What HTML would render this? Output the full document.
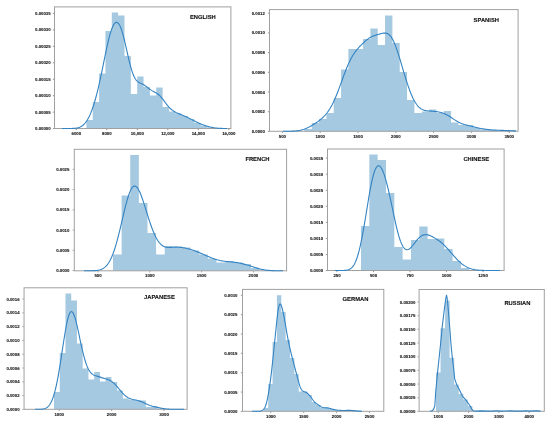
<!DOCTYPE html>
<html lang="en"><head><meta charset="utf-8"><title>Distributions</title>
<style>
html,body{margin:0;padding:0;background:#fff;}
body{width:550px;height:422px;overflow:hidden;}
svg text{font-family:"Liberation Sans",Arial,Helvetica,sans-serif;text-rendering:geometricPrecision;}
</style></head><body>
<svg width="550" height="422" viewBox="0 0 550 422" style="display:block">
<rect width="550" height="422" fill="#fff"/>
<g>
<path d="M86.4,128.5 L86.4,120 L92.75,120 L92.75,102 L99.1,102 L99.1,73.6 L105.45,73.6 L105.45,31 L111.8,31 L111.8,12.6 L118.15,12.6 L118.15,15.6 L124.5,15.6 L124.5,56 L130.85,56 L130.85,94 L137.2,94 L137.2,76.6 L143.55,76.6 L143.55,87 L149.9,87 L149.9,95.6 L156.25,95.6 L156.25,87.6 L162.6,87.6 L162.6,107 L168.95,107 L168.95,111.6 L175.3,111.6 L175.3,113.6 L181.65,113.6 L181.65,116 L188,116 L188,119 L194.35,119 L194.35,123 L200.7,123 L200.7,125.4 L207.05,125.4 L207.05,127.4 L213.4,127.4 L213.4,128.5Z" fill="#a5c9e1"/>
<rect x="54.5" y="6.9" width="176.4" height="121.6" fill="none" stroke="#a0a0a0" stroke-width="1"/>
<path d="M62,128.5 L62.83,128.5 L63.66,128.5 L64.49,128.5 L65.32,128.5 L66.15,128.5 L66.97,128.5 L67.8,128.49 L68.63,128.49 L69.46,128.49 L70.29,128.48 L71.12,128.47 L71.95,128.45 L72.78,128.42 L73.61,128.38 L74.44,128.33 L75.27,128.26 L76.1,128.16 L76.92,128.03 L77.75,127.85 L78.58,127.64 L79.41,127.36 L80.24,127.02 L81.07,126.6 L81.9,126.09 L82.73,125.49 L83.56,124.78 L84.39,123.95 L85.22,123.01 L86.05,121.93 L86.87,120.72 L87.7,119.36 L88.53,117.85 L89.36,116.19 L90.19,114.38 L91.02,112.4 L91.85,110.26 L92.68,107.95 L93.51,105.47 L94.34,102.82 L95.17,100.01 L95.99,97.02 L96.82,93.86 L97.65,90.53 L98.48,87.05 L99.31,83.42 L100.14,79.66 L100.97,75.78 L101.8,71.81 L102.63,67.77 L103.46,63.69 L104.29,59.61 L105.12,55.56 L105.94,51.59 L106.77,47.73 L107.6,44.02 L108.43,40.5 L109.26,37.21 L110.09,34.18 L110.92,31.44 L111.75,29.02 L112.58,26.94 L113.41,25.22 L114.24,23.89 L115.07,22.95 L115.89,22.41 L116.72,22.3 L117.55,22.61 L118.38,23.34 L119.21,24.5 L120.04,26.06 L120.87,28.03 L121.7,30.36 L122.53,33.04 L123.36,36.02 L124.19,39.26 L125.02,42.7 L125.84,46.29 L126.67,49.95 L127.5,53.64 L128.33,57.27 L129.16,60.78 L129.99,64.12 L130.82,67.23 L131.65,70.07 L132.48,72.61 L133.31,74.83 L134.14,76.72 L134.96,78.29 L135.79,79.57 L136.62,80.58 L137.45,81.38 L138.28,82 L139.11,82.49 L139.94,82.9 L140.77,83.28 L141.6,83.65 L142.43,84.05 L143.26,84.49 L144.09,84.99 L144.91,85.54 L145.74,86.13 L146.57,86.76 L147.4,87.41 L148.23,88.06 L149.06,88.69 L149.89,89.3 L150.72,89.87 L151.55,90.4 L152.38,90.89 L153.21,91.35 L154.04,91.79 L154.86,92.22 L155.69,92.67 L156.52,93.14 L157.35,93.68 L158.18,94.28 L159.01,94.96 L159.84,95.73 L160.67,96.59 L161.5,97.53 L162.33,98.55 L163.16,99.63 L163.98,100.74 L164.81,101.87 L165.64,103 L166.47,104.1 L167.3,105.16 L168.13,106.17 L168.96,107.11 L169.79,107.98 L170.62,108.78 L171.45,109.51 L172.28,110.17 L173.11,110.76 L173.93,111.3 L174.76,111.79 L175.59,112.24 L176.42,112.66 L177.25,113.05 L178.08,113.42 L178.91,113.78 L179.74,114.13 L180.57,114.47 L181.4,114.81 L182.23,115.16 L183.06,115.5 L183.88,115.86 L184.71,116.22 L185.54,116.58 L186.37,116.96 L187.2,117.34 L188.03,117.73 L188.86,118.13 L189.69,118.54 L190.52,118.96 L191.35,119.38 L192.18,119.8 L193.01,120.23 L193.83,120.65 L194.66,121.07 L195.49,121.49 L196.32,121.9 L197.15,122.3 L197.98,122.7 L198.81,123.08 L199.64,123.45 L200.47,123.81 L201.3,124.15 L202.13,124.48 L202.95,124.8 L203.78,125.1 L204.61,125.39 L205.44,125.67 L206.27,125.93 L207.1,126.18 L207.93,126.42 L208.76,126.65 L209.59,126.86 L210.42,127.06 L211.25,127.24 L212.08,127.41 L212.9,127.56 L213.73,127.7 L214.56,127.83 L215.39,127.94 L216.22,128.04 L217.05,128.12 L217.88,128.2 L218.71,128.26 L219.54,128.31 L220.37,128.36 L221.2,128.39 L222.03,128.42 L222.85,128.44 L223.68,128.46 L224.51,128.47 L225.34,128.48 L226.17,128.48 L227,128.49" fill="none" stroke="#3383c2" stroke-width="1.1" stroke-linejoin="round"/>
<path d="M54,128.6 h-1.1 M54,112.15 h-1.1 M54,95.7 h-1.1 M54,79.25 h-1.1 M54,62.8 h-1.1 M54,46.35 h-1.1 M54,29.9 h-1.1 M54,13.45 h-1.1 M76.3,129 v1.1 M106.8,129 v1.1 M137.3,129 v1.1 M167.8,129 v1.1 M198.3,129 v1.1 M228.8,129 v1.1" stroke="#666" stroke-width="0.7" fill="none"/>
<g font-size="4.3" font-weight="bold" fill="#111" stroke="#111" stroke-width="0.08"><text x="50.6" y="130.15" text-anchor="end">0.00000</text><text x="50.6" y="113.7" text-anchor="end">0.00005</text><text x="50.6" y="97.25" text-anchor="end">0.00010</text><text x="50.6" y="80.8" text-anchor="end">0.00015</text><text x="50.6" y="64.35" text-anchor="end">0.00020</text><text x="50.6" y="47.9" text-anchor="end">0.00025</text><text x="50.6" y="31.45" text-anchor="end">0.00030</text><text x="50.6" y="15" text-anchor="end">0.00035</text><text x="76.3" y="134.9" text-anchor="middle">6000</text><text x="106.8" y="134.9" text-anchor="middle">8000</text><text x="137.3" y="134.9" text-anchor="middle">10,000</text><text x="167.8" y="134.9" text-anchor="middle">12,000</text><text x="198.3" y="134.9" text-anchor="middle">14,000</text><text x="228.8" y="134.9" text-anchor="middle">16,000</text></g>
<text x="190" y="19.3" font-size="5.8" font-weight="bold" fill="#111" stroke="#111" stroke-width="0.1">ENGLISH</text>
</g>
<g>
<path d="M304.4,131.3 L304.4,129 L311.73,129 L311.73,123 L319.07,123 L319.07,119 L326.4,119 L326.4,113 L333.73,113 L333.73,98 L341.06,98 L341.06,69.6 L348.4,69.6 L348.4,49 L355.73,49 L355.73,49 L363.06,49 L363.06,39 L370.4,39 L370.4,28.4 L377.73,28.4 L377.73,45 L385.06,45 L385.06,15.4 L392.4,15.4 L392.4,43 L399.73,43 L399.73,72 L407.06,72 L407.06,100 L414.39,100 L414.39,113 L421.73,113 L421.73,111.6 L429.06,111.6 L429.06,109.6 L436.39,109.6 L436.39,113 L443.73,113 L443.73,111 L451.06,111 L451.06,122.6 L458.39,122.6 L458.39,125 L465.73,125 L465.73,125 L473.06,125 L473.06,128 L480.39,128 L480.39,129.6 L487.73,129.6 L487.73,130 L495.06,130 L495.06,130.4 L502.39,130.4 L502.39,130.4 L509.72,130.4 L509.72,130.8 L517.06,130.8 L517.06,131.3Z" fill="#a5c9e1"/>
<rect x="269.5" y="9.6" width="248.6" height="121.7" fill="none" stroke="#a0a0a0" stroke-width="1"/>
<path d="M283,131.3 L284.17,131.29 L285.34,131.29 L286.51,131.28 L287.68,131.27 L288.85,131.25 L290.03,131.23 L291.2,131.2 L292.37,131.15 L293.54,131.09 L294.71,131.01 L295.88,130.91 L297.05,130.78 L298.22,130.62 L299.39,130.42 L300.56,130.18 L301.73,129.89 L302.9,129.56 L304.08,129.18 L305.25,128.76 L306.42,128.28 L307.59,127.75 L308.76,127.18 L309.93,126.57 L311.1,125.92 L312.27,125.24 L313.44,124.52 L314.61,123.77 L315.78,123 L316.95,122.19 L318.13,121.35 L319.3,120.47 L320.47,119.54 L321.64,118.56 L322.81,117.5 L323.98,116.35 L325.15,115.11 L326.32,113.74 L327.49,112.24 L328.66,110.59 L329.83,108.78 L331.01,106.8 L332.18,104.64 L333.35,102.29 L334.52,99.76 L335.69,97.06 L336.86,94.21 L338.03,91.21 L339.2,88.11 L340.37,84.93 L341.54,81.71 L342.71,78.49 L343.88,75.3 L345.06,72.19 L346.23,69.19 L347.4,66.33 L348.57,63.64 L349.74,61.13 L350.91,58.81 L352.08,56.69 L353.25,54.76 L354.42,52.99 L355.59,51.38 L356.76,49.89 L357.93,48.51 L359.11,47.2 L360.28,45.96 L361.45,44.77 L362.62,43.61 L363.79,42.5 L364.96,41.43 L366.13,40.42 L367.3,39.47 L368.47,38.6 L369.64,37.82 L370.81,37.13 L371.98,36.54 L373.16,36.04 L374.33,35.61 L375.5,35.23 L376.67,34.88 L377.84,34.55 L379.01,34.22 L380.18,33.89 L381.35,33.58 L382.52,33.29 L383.69,33.08 L384.86,33 L386.04,33.1 L387.21,33.43 L388.38,34.06 L389.55,35.04 L390.72,36.39 L391.89,38.13 L393.06,40.27 L394.23,42.79 L395.4,45.66 L396.57,48.84 L397.74,52.28 L398.91,55.94 L400.09,59.74 L401.26,63.65 L402.43,67.6 L403.6,71.54 L404.77,75.43 L405.94,79.23 L407.11,82.9 L408.28,86.39 L409.45,89.69 L410.62,92.76 L411.79,95.6 L412.96,98.17 L414.14,100.48 L415.31,102.51 L416.48,104.28 L417.65,105.78 L418.82,107.04 L419.99,108.07 L421.16,108.89 L422.33,109.53 L423.5,110.02 L424.67,110.37 L425.84,110.62 L427.02,110.8 L428.19,110.92 L429.36,111.01 L430.53,111.08 L431.7,111.15 L432.87,111.23 L434.04,111.33 L435.21,111.45 L436.38,111.6 L437.55,111.78 L438.72,111.99 L439.89,112.25 L441.07,112.55 L442.24,112.9 L443.41,113.31 L444.58,113.79 L445.75,114.32 L446.92,114.92 L448.09,115.57 L449.26,116.28 L450.43,117.03 L451.6,117.8 L452.77,118.59 L453.94,119.37 L455.12,120.13 L456.29,120.85 L457.46,121.53 L458.63,122.16 L459.8,122.73 L460.97,123.25 L462.14,123.71 L463.31,124.12 L464.48,124.5 L465.65,124.84 L466.82,125.15 L467.99,125.46 L469.17,125.75 L470.34,126.03 L471.51,126.32 L472.68,126.6 L473.85,126.89 L475.02,127.17 L476.19,127.45 L477.36,127.72 L478.53,127.99 L479.7,128.24 L480.87,128.48 L482.05,128.7 L483.22,128.91 L484.39,129.1 L485.56,129.27 L486.73,129.42 L487.9,129.55 L489.07,129.67 L490.24,129.78 L491.41,129.87 L492.58,129.96 L493.75,130.03 L494.92,130.1 L496.1,130.15 L497.27,130.21 L498.44,130.26 L499.61,130.3 L500.78,130.34 L501.95,130.38 L503.12,130.42 L504.29,130.47 L505.46,130.51 L506.63,130.55 L507.8,130.59 L508.97,130.64 L510.15,130.69 L511.32,130.74 L512.49,130.79 L513.66,130.84 L514.83,130.89 L516,130.94" fill="none" stroke="#3383c2" stroke-width="1.1" stroke-linejoin="round"/>
<path d="M269,131.4 h-1.1 M269,111.7 h-1.1 M269,92 h-1.1 M269,72.3 h-1.1 M269,52.6 h-1.1 M269,32.9 h-1.1 M269,13.2 h-1.1 M282.4,131.8 v1.1 M320.2,131.8 v1.1 M358,131.8 v1.1 M395.8,131.8 v1.1 M433.6,131.8 v1.1 M471.4,131.8 v1.1 M509.2,131.8 v1.1" stroke="#666" stroke-width="0.7" fill="none"/>
<g font-size="4.3" font-weight="bold" fill="#111" stroke="#111" stroke-width="0.08"><text x="264.9" y="132.95" text-anchor="end">0.0000</text><text x="264.9" y="113.25" text-anchor="end">0.0002</text><text x="264.9" y="93.55" text-anchor="end">0.0004</text><text x="264.9" y="73.85" text-anchor="end">0.0006</text><text x="264.9" y="54.15" text-anchor="end">0.0008</text><text x="264.9" y="34.45" text-anchor="end">0.0010</text><text x="264.9" y="14.75" text-anchor="end">0.0012</text><text x="282.4" y="137.7" text-anchor="middle">500</text><text x="320.2" y="137.7" text-anchor="middle">1000</text><text x="358" y="137.7" text-anchor="middle">1500</text><text x="395.8" y="137.7" text-anchor="middle">2000</text><text x="433.6" y="137.7" text-anchor="middle">2500</text><text x="471.4" y="137.7" text-anchor="middle">3000</text><text x="509.2" y="137.7" text-anchor="middle">3500</text></g>
<text x="473.6" y="22" font-size="5.8" font-weight="bold" fill="#111" stroke="#111" stroke-width="0.1">SPANISH</text>
</g>
<g>
<path d="M113,270.8 L113,254.6 L121.62,254.6 L121.62,195.6 L130.24,195.6 L130.24,155 L138.86,155 L138.86,203 L147.48,203 L147.48,233 L156.1,233 L156.1,254.4 L164.72,254.4 L164.72,246 L173.34,246 L173.34,246.4 L181.96,246.4 L181.96,247.6 L190.58,247.6 L190.58,250.4 L199.2,250.4 L199.2,254.4 L207.82,254.4 L207.82,258.4 L216.44,258.4 L216.44,262.4 L225.06,262.4 L225.06,261 L233.68,261 L233.68,262.6 L242.3,262.6 L242.3,264 L250.92,264 L250.92,268 L259.54,268 L259.54,270.8Z" fill="#a5c9e1"/>
<rect x="74.3" y="149.3" width="212.3" height="121.5" fill="none" stroke="#a0a0a0" stroke-width="1"/>
<path d="M84,270.8 L85,270.8 L86,270.79 L87,270.79 L88,270.78 L89,270.78 L90,270.77 L91,270.75 L92,270.72 L93,270.69 L94,270.64 L95,270.58 L96,270.49 L97,270.37 L98,270.21 L99,270.01 L100,269.75 L101,269.42 L102,269.01 L103,268.49 L104,267.86 L105,267.09 L106,266.16 L107,265.07 L108,263.77 L109,262.27 L110,260.53 L111,258.55 L112,256.31 L113,253.81 L114,251.03 L115,247.99 L116,244.69 L117,241.14 L118,237.38 L119,233.42 L120,229.31 L121,225.09 L122,220.81 L123,216.52 L124,212.3 L125,208.19 L126,204.27 L127,200.59 L128,197.22 L129,194.22 L130,191.62 L131,189.49 L132,187.84 L133,186.71 L134,186.09 L135,186 L136,186.42 L137,187.32 L138,188.68 L139,190.45 L140,192.58 L141,195.03 L142,197.73 L143,200.64 L144,203.7 L145,206.85 L146,210.06 L147,213.27 L148,216.44 L149,219.55 L150,222.56 L151,225.45 L152,228.19 L153,230.77 L154,233.17 L155,235.38 L156,237.4 L157,239.21 L158,240.82 L159,242.23 L160,243.44 L161,244.46 L162,245.3 L163,245.97 L164,246.49 L165,246.87 L166,247.14 L167,247.3 L168,247.4 L169,247.43 L170,247.41 L171,247.37 L172,247.32 L173,247.26 L174,247.21 L175,247.17 L176,247.15 L177,247.15 L178,247.18 L179,247.23 L180,247.3 L181,247.4 L182,247.52 L183,247.67 L184,247.84 L185,248.03 L186,248.24 L187,248.48 L188,248.73 L189,249 L190,249.28 L191,249.59 L192,249.91 L193,250.24 L194,250.59 L195,250.96 L196,251.33 L197,251.72 L198,252.12 L199,252.53 L200,252.95 L201,253.37 L202,253.8 L203,254.23 L204,254.67 L205,255.11 L206,255.54 L207,255.98 L208,256.41 L209,256.84 L210,257.26 L211,257.66 L212,258.06 L213,258.44 L214,258.8 L215,259.15 L216,259.47 L217,259.77 L218,260.04 L219,260.29 L220,260.52 L221,260.72 L222,260.9 L223,261.05 L224,261.19 L225,261.32 L226,261.43 L227,261.53 L228,261.62 L229,261.71 L230,261.81 L231,261.9 L232,262 L233,262.11 L234,262.23 L235,262.36 L236,262.5 L237,262.66 L238,262.82 L239,263 L240,263.2 L241,263.41 L242,263.63 L243,263.87 L244,264.12 L245,264.38 L246,264.66 L247,264.95 L248,265.25 L249,265.56 L250,265.88 L251,266.2 L252,266.52 L253,266.85 L254,267.17 L255,267.49 L256,267.81 L257,268.11 L258,268.4 L259,268.67 L260,268.93 L261,269.17 L262,269.4 L263,269.6 L264,269.78 L265,269.95 L266,270.09 L267,270.22 L268,270.33 L269,270.42 L270,270.5 L271,270.56 L272,270.62 L273,270.66 L274,270.69 L275,270.72 L276,270.74 L277,270.76 L278,270.77 L279,270.78 L280,270.78 L281,270.79 L282,270.79 L283,270.8" fill="none" stroke="#3383c2" stroke-width="1.1" stroke-linejoin="round"/>
<path d="M73.8,270.6 h-1.1 M73.8,250.35 h-1.1 M73.8,230.1 h-1.1 M73.8,209.85 h-1.1 M73.8,189.6 h-1.1 M73.8,169.35 h-1.1 M98,271.3 v1.1 M149.8,271.3 v1.1 M201.6,271.3 v1.1 M253.4,271.3 v1.1" stroke="#666" stroke-width="0.7" fill="none"/>
<g font-size="4.3" font-weight="bold" fill="#111" stroke="#111" stroke-width="0.08"><text x="69.4" y="272.15" text-anchor="end">0.0000</text><text x="69.4" y="251.9" text-anchor="end">0.0005</text><text x="69.4" y="231.65" text-anchor="end">0.0010</text><text x="69.4" y="211.4" text-anchor="end">0.0015</text><text x="69.4" y="191.15" text-anchor="end">0.0020</text><text x="69.4" y="170.9" text-anchor="end">0.0025</text><text x="98" y="277.2" text-anchor="middle">500</text><text x="149.8" y="277.2" text-anchor="middle">1000</text><text x="201.6" y="277.2" text-anchor="middle">1500</text><text x="253.4" y="277.2" text-anchor="middle">2000</text></g>
<text x="245.4" y="161" font-size="5.8" font-weight="bold" fill="#111" stroke="#111" stroke-width="0.1">FRENCH</text>
</g>
<g>
<path d="M361,270.5 L361,226 L369.33,226 L369.33,154.6 L377.66,154.6 L377.66,160 L385.99,160 L385.99,193 L394.32,193 L394.32,247 L402.65,247 L402.65,259.4 L410.98,259.4 L410.98,240 L419.31,240 L419.31,226.4 L427.64,226.4 L427.64,239 L435.97,239 L435.97,238.4 L444.3,238.4 L444.3,249 L452.63,249 L452.63,261 L460.96,261 L460.96,268 L469.29,268 L469.29,270.5Z" fill="#a5c9e1"/>
<rect x="327.5" y="149" width="176.6" height="121.5" fill="none" stroke="#a0a0a0" stroke-width="1"/>
<path d="M335,270.5 L335.83,270.5 L336.66,270.5 L337.49,270.5 L338.32,270.5 L339.15,270.49 L339.97,270.49 L340.8,270.48 L341.63,270.47 L342.46,270.46 L343.29,270.43 L344.12,270.4 L344.95,270.34 L345.78,270.26 L346.61,270.14 L347.44,269.98 L348.27,269.76 L349.1,269.46 L349.92,269.06 L350.75,268.53 L351.58,267.86 L352.41,267.01 L353.24,265.96 L354.07,264.68 L354.9,263.14 L355.73,261.32 L356.56,259.21 L357.39,256.78 L358.22,254.03 L359.05,250.96 L359.87,247.57 L360.7,243.87 L361.53,239.87 L362.36,235.61 L363.19,231.09 L364.02,226.37 L364.85,221.48 L365.68,216.47 L366.51,211.39 L367.34,206.31 L368.17,201.28 L368.99,196.37 L369.82,191.65 L370.65,187.19 L371.48,183.04 L372.31,179.27 L373.14,175.92 L373.97,173.02 L374.8,170.6 L375.63,168.67 L376.46,167.23 L377.29,166.29 L378.12,165.82 L378.94,165.8 L379.77,166.21 L380.6,167.04 L381.43,168.24 L382.26,169.79 L383.09,171.68 L383.92,173.87 L384.75,176.35 L385.58,179.08 L386.41,182.06 L387.24,185.25 L388.07,188.63 L388.89,192.19 L389.72,195.88 L390.55,199.69 L391.38,203.58 L392.21,207.51 L393.04,211.46 L393.87,215.38 L394.7,219.22 L395.53,222.96 L396.36,226.55 L397.19,229.95 L398.02,233.14 L398.84,236.08 L399.67,238.76 L400.5,241.16 L401.33,243.26 L402.16,245.06 L402.99,246.56 L403.82,247.75 L404.65,248.65 L405.48,249.27 L406.31,249.62 L407.14,249.72 L407.96,249.58 L408.79,249.23 L409.62,248.69 L410.45,248 L411.28,247.17 L412.11,246.24 L412.94,245.23 L413.77,244.17 L414.6,243.09 L415.43,242 L416.26,240.95 L417.09,239.93 L417.91,238.97 L418.74,238.09 L419.57,237.3 L420.4,236.6 L421.23,236.01 L422.06,235.52 L422.89,235.13 L423.72,234.86 L424.55,234.68 L425.38,234.61 L426.21,234.62 L427.04,234.72 L427.86,234.89 L428.69,235.12 L429.52,235.41 L430.35,235.75 L431.18,236.12 L432.01,236.53 L432.84,236.96 L433.67,237.42 L434.5,237.89 L435.33,238.38 L436.16,238.9 L436.98,239.43 L437.81,239.98 L438.64,240.56 L439.47,241.16 L440.3,241.8 L441.13,242.46 L441.96,243.16 L442.79,243.89 L443.62,244.66 L444.45,245.46 L445.28,246.29 L446.11,247.15 L446.93,248.04 L447.76,248.95 L448.59,249.89 L449.42,250.83 L450.25,251.79 L451.08,252.76 L451.91,253.72 L452.74,254.68 L453.57,255.63 L454.4,256.57 L455.23,257.49 L456.06,258.39 L456.88,259.26 L457.71,260.11 L458.54,260.92 L459.37,261.7 L460.2,262.45 L461.03,263.15 L461.86,263.83 L462.69,264.46 L463.52,265.05 L464.35,265.61 L465.18,266.13 L466.01,266.61 L466.83,267.05 L467.66,267.46 L468.49,267.83 L469.32,268.17 L470.15,268.47 L470.98,268.75 L471.81,269 L472.64,269.22 L473.47,269.41 L474.3,269.58 L475.13,269.73 L475.95,269.86 L476.78,269.97 L477.61,270.07 L478.44,270.15 L479.27,270.22 L480.1,270.27 L480.93,270.32 L481.76,270.36 L482.59,270.39 L483.42,270.42 L484.25,270.44 L485.08,270.45 L485.9,270.46 L486.73,270.47 L487.56,270.48 L488.39,270.49 L489.22,270.49 L490.05,270.49 L490.88,270.49 L491.71,270.5 L492.54,270.5 L493.37,270.5 L494.2,270.5 L495.03,270.5 L495.85,270.5 L496.68,270.5 L497.51,270.5 L498.34,270.5 L499.17,270.5 L500,270.5" fill="none" stroke="#3383c2" stroke-width="1.1" stroke-linejoin="round"/>
<path d="M327,270.6 h-1.1 M327,254.52 h-1.1 M327,238.44 h-1.1 M327,222.36 h-1.1 M327,206.28 h-1.1 M327,190.2 h-1.1 M327,174.12 h-1.1 M327,158.04 h-1.1 M337,271 v1.1 M373.5,271 v1.1 M410,271 v1.1 M446.5,271 v1.1 M483,271 v1.1" stroke="#666" stroke-width="0.7" fill="none"/>
<g font-size="4.3" font-weight="bold" fill="#111" stroke="#111" stroke-width="0.08"><text x="323.1" y="272.15" text-anchor="end">0.0000</text><text x="323.1" y="256.07" text-anchor="end">0.0005</text><text x="323.1" y="239.99" text-anchor="end">0.0010</text><text x="323.1" y="223.91" text-anchor="end">0.0015</text><text x="323.1" y="207.83" text-anchor="end">0.0020</text><text x="323.1" y="191.75" text-anchor="end">0.0025</text><text x="323.1" y="175.67" text-anchor="end">0.0030</text><text x="323.1" y="159.59" text-anchor="end">0.0035</text><text x="337" y="276.9" text-anchor="middle">250</text><text x="373.5" y="276.9" text-anchor="middle">500</text><text x="410" y="276.9" text-anchor="middle">750</text><text x="446.5" y="276.9" text-anchor="middle">1000</text><text x="483" y="276.9" text-anchor="middle">1250</text></g>
<text x="463.4" y="161.2" font-size="5.8" font-weight="bold" fill="#111" stroke="#111" stroke-width="0.1">CHINESE</text>
</g>
<g>
<path d="M54,409.3 L54,392 L59.74,392 L59.74,353 L65.48,353 L65.48,293.4 L71.22,293.4 L71.22,300.4 L76.96,300.4 L76.96,343.4 L82.7,343.4 L82.7,368.6 L88.44,368.6 L88.44,379.6 L94.18,379.6 L94.18,372 L99.92,372 L99.92,381.4 L105.66,381.4 L105.66,377 L111.4,377 L111.4,382 L117.14,382 L117.14,390.4 L122.88,390.4 L122.88,398.6 L128.62,398.6 L128.62,399.4 L134.36,399.4 L134.36,400.4 L140.1,400.4 L140.1,400.6 L145.84,400.6 L145.84,407 L151.58,407 L151.58,406 L157.32,406 L157.32,408.4 L163.06,408.4 L163.06,409.3Z" fill="#a5c9e1"/>
<rect x="24.05" y="287.8" width="163.05" height="121.5" fill="none" stroke="#a0a0a0" stroke-width="1"/>
<path d="M35,409.3 L35.75,409.3 L36.5,409.29 L37.25,409.29 L37.99,409.28 L38.74,409.27 L39.49,409.25 L40.24,409.23 L40.99,409.19 L41.74,409.13 L42.49,409.05 L43.24,408.94 L43.98,408.79 L44.73,408.58 L45.48,408.3 L46.23,407.95 L46.98,407.49 L47.73,406.91 L48.48,406.19 L49.23,405.31 L49.97,404.25 L50.72,402.98 L51.47,401.5 L52.22,399.77 L52.97,397.78 L53.72,395.52 L54.47,392.97 L55.22,390.13 L55.96,387 L56.71,383.57 L57.46,379.85 L58.21,375.85 L58.96,371.6 L59.71,367.11 L60.46,362.43 L61.21,357.6 L61.95,352.67 L62.7,347.71 L63.45,342.78 L64.2,337.96 L64.95,333.34 L65.7,328.98 L66.45,324.98 L67.2,321.4 L67.94,318.31 L68.69,315.76 L69.44,313.79 L70.19,312.44 L70.94,311.71 L71.69,311.6 L72.44,312.09 L73.19,313.15 L73.93,314.74 L74.68,316.8 L75.43,319.27 L76.18,322.09 L76.93,325.19 L77.68,328.5 L78.43,331.95 L79.18,335.48 L79.92,339.03 L80.67,342.54 L81.42,345.97 L82.17,349.28 L82.92,352.43 L83.67,355.41 L84.42,358.18 L85.17,360.73 L85.91,363.06 L86.66,365.16 L87.41,367.03 L88.16,368.67 L88.91,370.09 L89.66,371.29 L90.41,372.31 L91.16,373.14 L91.9,373.82 L92.65,374.36 L93.4,374.8 L94.15,375.15 L94.9,375.44 L95.65,375.7 L96.4,375.93 L97.15,376.15 L97.89,376.38 L98.64,376.62 L99.39,376.86 L100.14,377.12 L100.89,377.37 L101.64,377.63 L102.39,377.87 L103.14,378.11 L103.88,378.33 L104.63,378.54 L105.38,378.75 L106.13,378.95 L106.88,379.17 L107.63,379.4 L108.38,379.67 L109.13,379.97 L109.87,380.32 L110.62,380.73 L111.37,381.19 L112.12,381.72 L112.87,382.31 L113.62,382.96 L114.37,383.67 L115.12,384.43 L115.86,385.24 L116.61,386.08 L117.36,386.96 L118.11,387.85 L118.86,388.76 L119.61,389.67 L120.36,390.57 L121.11,391.45 L121.85,392.31 L122.6,393.13 L123.35,393.91 L124.1,394.65 L124.85,395.33 L125.6,395.96 L126.35,396.53 L127.1,397.04 L127.84,397.5 L128.59,397.91 L129.34,398.26 L130.09,398.58 L130.84,398.85 L131.59,399.09 L132.34,399.31 L133.09,399.5 L133.83,399.67 L134.58,399.84 L135.33,400 L136.08,400.16 L136.83,400.32 L137.58,400.5 L138.33,400.68 L139.08,400.89 L139.82,401.11 L140.57,401.36 L141.32,401.63 L142.07,401.92 L142.82,402.24 L143.57,402.58 L144.32,402.93 L145.07,403.28 L145.81,403.64 L146.56,404 L147.31,404.35 L148.06,404.68 L148.81,405 L149.56,405.29 L150.31,405.56 L151.06,405.81 L151.8,406.04 L152.55,406.25 L153.3,406.44 L154.05,406.62 L154.8,406.8 L155.55,406.97 L156.3,407.14 L157.05,407.31 L157.79,407.47 L158.54,407.64 L159.29,407.8 L160.04,407.96 L160.79,408.12 L161.54,408.27 L162.29,408.4 L163.04,408.53 L163.78,408.65 L164.53,408.76 L165.28,408.85 L166.03,408.93 L166.78,409.01 L167.53,409.07 L168.28,409.12 L169.03,409.16 L169.77,409.19 L170.52,409.22 L171.27,409.24 L172.02,409.26 L172.77,409.27 L173.52,409.28 L174.27,409.28 L175.02,409.29 L175.76,409.29 L176.51,409.3 L177.26,409.3 L178.01,409.3 L178.76,409.3 L179.51,409.3 L180.26,409.3 L181.01,409.3 L181.75,409.3 L182.5,409.3 L183.25,409.3 L184,409.3" fill="none" stroke="#3383c2" stroke-width="1.1" stroke-linejoin="round"/>
<path d="M23.55,409.4 h-1.1 M23.55,395.6 h-1.1 M23.55,381.8 h-1.1 M23.55,368 h-1.1 M23.55,354.2 h-1.1 M23.55,340.4 h-1.1 M23.55,326.6 h-1.1 M23.55,312.8 h-1.1 M23.55,299 h-1.1 M59.2,409.8 v1.1 M111.6,409.8 v1.1 M164,409.8 v1.1" stroke="#666" stroke-width="0.7" fill="none"/>
<g font-size="4.3" font-weight="bold" fill="#111" stroke="#111" stroke-width="0.08"><text x="19.55" y="410.95" text-anchor="end">0.0000</text><text x="19.55" y="397.15" text-anchor="end">0.0002</text><text x="19.55" y="383.35" text-anchor="end">0.0004</text><text x="19.55" y="369.55" text-anchor="end">0.0006</text><text x="19.55" y="355.75" text-anchor="end">0.0008</text><text x="19.55" y="341.95" text-anchor="end">0.0010</text><text x="19.55" y="328.15" text-anchor="end">0.0012</text><text x="19.55" y="314.35" text-anchor="end">0.0014</text><text x="19.55" y="300.55" text-anchor="end">0.0016</text><text x="59.2" y="415.7" text-anchor="middle">1000</text><text x="111.6" y="415.7" text-anchor="middle">2000</text><text x="164" y="415.7" text-anchor="middle">3000</text></g>
<text x="144" y="299" font-size="5.8" font-weight="bold" fill="#111" stroke="#111" stroke-width="0.1">JAPANESE</text>
</g>
<g>
<path d="M263.8,411.3 L263.8,408 L268.17,408 L268.17,384 L272.54,384 L272.54,342 L276.91,342 L276.91,295.2 L281.28,295.2 L281.28,312 L285.65,312 L285.65,340 L290.02,340 L290.02,358 L294.39,358 L294.39,374 L298.76,374 L298.76,391.6 L303.13,391.6 L303.13,391.6 L307.5,391.6 L307.5,395 L311.87,395 L311.87,402 L316.24,402 L316.24,405 L320.61,405 L320.61,408 L324.98,408 L324.98,407.6 L329.35,407.6 L329.35,409 L333.72,409 L333.72,410 L338.09,410 L338.09,410.4 L342.46,410.4 L342.46,410.6 L346.83,410.6 L346.83,410.2 L351.2,410.2 L351.2,410.6 L355.57,410.6 L355.57,411 L359.94,411 L359.94,411.3Z" fill="#a5c9e1"/>
<rect x="242.5" y="289.4" width="141.3" height="121.9" fill="none" stroke="#a0a0a0" stroke-width="1"/>
<path d="M252,411.3 L252.55,411.3 L253.11,411.3 L253.66,411.3 L254.21,411.3 L254.76,411.3 L255.32,411.3 L255.87,411.3 L256.42,411.3 L256.97,411.3 L257.53,411.29 L258.08,411.28 L258.63,411.27 L259.19,411.24 L259.74,411.19 L260.29,411.11 L260.84,410.99 L261.4,410.81 L261.95,410.57 L262.5,410.25 L263.06,409.83 L263.61,409.29 L264.16,408.58 L264.71,407.68 L265.27,406.53 L265.82,405.08 L266.37,403.28 L266.92,401.13 L267.48,398.63 L268.03,395.81 L268.58,392.71 L269.14,389.35 L269.69,385.74 L270.24,381.85 L270.79,377.65 L271.35,373.14 L271.9,368.33 L272.45,363.26 L273.01,358.03 L273.56,352.7 L274.11,347.31 L274.66,341.89 L275.22,336.44 L275.77,330.97 L276.32,325.56 L276.87,320.36 L277.43,315.56 L277.98,311.39 L278.53,308.04 L279.09,305.67 L279.64,304.3 L280.19,303.9 L280.74,304.34 L281.3,305.47 L281.85,307.13 L282.4,309.17 L282.95,311.52 L283.51,314.13 L284.06,316.96 L284.61,319.99 L285.17,323.17 L285.72,326.44 L286.27,329.71 L286.82,332.9 L287.38,335.96 L287.93,338.86 L288.48,341.62 L289.04,344.26 L289.59,346.79 L290.14,349.23 L290.69,351.59 L291.25,353.87 L291.8,356.08 L292.35,358.23 L292.9,360.34 L293.46,362.44 L294.01,364.54 L294.56,366.65 L295.12,368.74 L295.67,370.82 L296.22,372.9 L296.77,374.98 L297.33,377.07 L297.88,379.15 L298.43,381.22 L298.98,383.2 L299.54,385.05 L300.09,386.69 L300.64,388.08 L301.2,389.2 L301.75,390.04 L302.3,390.66 L302.85,391.09 L303.41,391.39 L303.96,391.62 L304.51,391.82 L305.07,392.03 L305.62,392.27 L306.17,392.56 L306.72,392.9 L307.28,393.3 L307.83,393.74 L308.38,394.23 L308.93,394.77 L309.49,395.36 L310.04,396.01 L310.59,396.72 L311.15,397.47 L311.7,398.25 L312.25,399.03 L312.8,399.8 L313.36,400.52 L313.91,401.18 L314.46,401.79 L315.02,402.34 L315.57,402.84 L316.12,403.31 L316.67,403.74 L317.23,404.15 L317.78,404.54 L318.33,404.92 L318.88,405.3 L319.44,405.67 L319.99,406.03 L320.54,406.38 L321.1,406.7 L321.65,406.99 L322.2,407.24 L322.75,407.43 L323.31,407.58 L323.86,407.67 L324.41,407.73 L324.96,407.76 L325.52,407.78 L326.07,407.8 L326.62,407.84 L327.18,407.89 L327.73,407.97 L328.28,408.07 L328.83,408.2 L329.39,408.34 L329.94,408.5 L330.49,408.65 L331.05,408.8 L331.6,408.95 L332.15,409.1 L332.7,409.24 L333.26,409.37 L333.81,409.5 L334.36,409.62 L334.91,409.73 L335.47,409.83 L336.02,409.92 L336.57,410 L337.13,410.07 L337.68,410.14 L338.23,410.19 L338.78,410.25 L339.34,410.3 L339.89,410.34 L340.44,410.38 L340.99,410.41 L341.55,410.44 L342.1,410.47 L342.65,410.49 L343.21,410.5 L343.76,410.51 L344.31,410.51 L344.86,410.5 L345.42,410.48 L345.97,410.45 L346.52,410.42 L347.08,410.39 L347.63,410.36 L348.18,410.34 L348.73,410.33 L349.29,410.33 L349.84,410.34 L350.39,410.37 L350.94,410.4 L351.5,410.44 L352.05,410.49 L352.6,410.53 L353.16,410.58 L353.71,410.63 L354.26,410.68 L354.81,410.73 L355.37,410.78 L355.92,410.83 L356.47,410.88 L357.03,410.92 L357.58,410.97 L358.13,411.01 L358.68,411.05 L359.24,411.09 L359.79,411.13 L360.34,411.17 L360.89,411.2 L361.45,411.22 L362,411.25" fill="none" stroke="#3383c2" stroke-width="1.1" stroke-linejoin="round"/>
<path d="M242,411.4 h-1.1 M242,392.05 h-1.1 M242,372.7 h-1.1 M242,353.35 h-1.1 M242,334 h-1.1 M242,314.65 h-1.1 M242,295.3 h-1.1 M270.8,411.8 v1.1 M303.7,411.8 v1.1 M336.6,411.8 v1.1 M369.5,411.8 v1.1" stroke="#666" stroke-width="0.7" fill="none"/>
<g font-size="4.3" font-weight="bold" fill="#111" stroke="#111" stroke-width="0.08"><text x="237.4" y="412.95" text-anchor="end">0.0000</text><text x="237.4" y="393.6" text-anchor="end">0.0005</text><text x="237.4" y="374.25" text-anchor="end">0.0010</text><text x="237.4" y="354.9" text-anchor="end">0.0015</text><text x="237.4" y="335.55" text-anchor="end">0.0020</text><text x="237.4" y="316.2" text-anchor="end">0.0025</text><text x="237.4" y="296.85" text-anchor="end">0.0030</text><text x="270.8" y="417.7" text-anchor="middle">1000</text><text x="303.7" y="417.7" text-anchor="middle">1500</text><text x="336.6" y="417.7" text-anchor="middle">2000</text><text x="369.5" y="417.7" text-anchor="middle">2500</text></g>
<text x="342.6" y="301" font-size="5.8" font-weight="bold" fill="#111" stroke="#111" stroke-width="0.1">GERMAN</text>
</g>
<g>
<path d="M436,411.3 L436,372.4 L440.55,372.4 L440.55,328.2 L445.1,328.2 L445.1,300.5 L449.65,300.5 L449.65,357.7 L454.2,357.7 L454.2,384.6 L458.75,384.6 L458.75,394 L463.3,394 L463.3,399.6 L467.85,399.6 L467.85,406 L472.4,406 L472.4,411.3Z" fill="#a5c9e1"/>
<rect x="419.1" y="289.5" width="125.2" height="121.8" fill="none" stroke="#a0a0a0" stroke-width="1"/>
<path d="M430,411.2 L432,410.8 L433.5,409.5 L434.8,406 L435.9,389.8 L437.6,372 L440.3,346.8 L442.2,327 L444.5,308 L445.8,298.5 L446.5,295.2 L447.2,298.5 L448.3,310 L449.6,326 L451.2,346.8 L452.3,357.7 L453.6,368 L454.7,378.9 L456.6,384.4 L459.4,389.8 L462.6,396.4 L466.4,400.7 L470.3,406.2 L472,409.5 L473.5,410.8 L476,411.1 L482,410.9 L486,411.1 L492,411.1 L497,410.8 L501,411.1 L506,411 L511,410.8 L515,411.1 L522,411.1 L526,410.8 L530,411.1 L534,410.8 L537,410.9 L540.6,411.1" fill="none" stroke="#3383c2" stroke-width="1.1" stroke-linejoin="round"/>
<path d="M418.6,411.4 h-1.1 M418.6,397.72 h-1.1 M418.6,384.05 h-1.1 M418.6,370.38 h-1.1 M418.6,356.7 h-1.1 M418.6,343.02 h-1.1 M418.6,329.35 h-1.1 M418.6,315.67 h-1.1 M418.6,302 h-1.1 M438.3,411.8 v1.1 M468.6,411.8 v1.1 M498.9,411.8 v1.1 M529.2,411.8 v1.1" stroke="#666" stroke-width="0.7" fill="none"/>
<g font-size="4.3" font-weight="bold" fill="#111" stroke="#111" stroke-width="0.08"><text x="415.4" y="412.95" text-anchor="end">0.00000</text><text x="415.4" y="399.27" text-anchor="end">0.00025</text><text x="415.4" y="385.6" text-anchor="end">0.00050</text><text x="415.4" y="371.93" text-anchor="end">0.00075</text><text x="415.4" y="358.25" text-anchor="end">0.00100</text><text x="415.4" y="344.57" text-anchor="end">0.00125</text><text x="415.4" y="330.9" text-anchor="end">0.00150</text><text x="415.4" y="317.22" text-anchor="end">0.00175</text><text x="415.4" y="303.55" text-anchor="end">0.00200</text><text x="438.3" y="417.7" text-anchor="middle">1000</text><text x="468.6" y="417.7" text-anchor="middle">2000</text><text x="498.9" y="417.7" text-anchor="middle">3000</text><text x="529.2" y="417.7" text-anchor="middle">4000</text></g>
<text x="504.4" y="305" font-size="5.8" font-weight="bold" fill="#111" stroke="#111" stroke-width="0.1">RUSSIAN</text>
</g>
</svg>
</body></html>
